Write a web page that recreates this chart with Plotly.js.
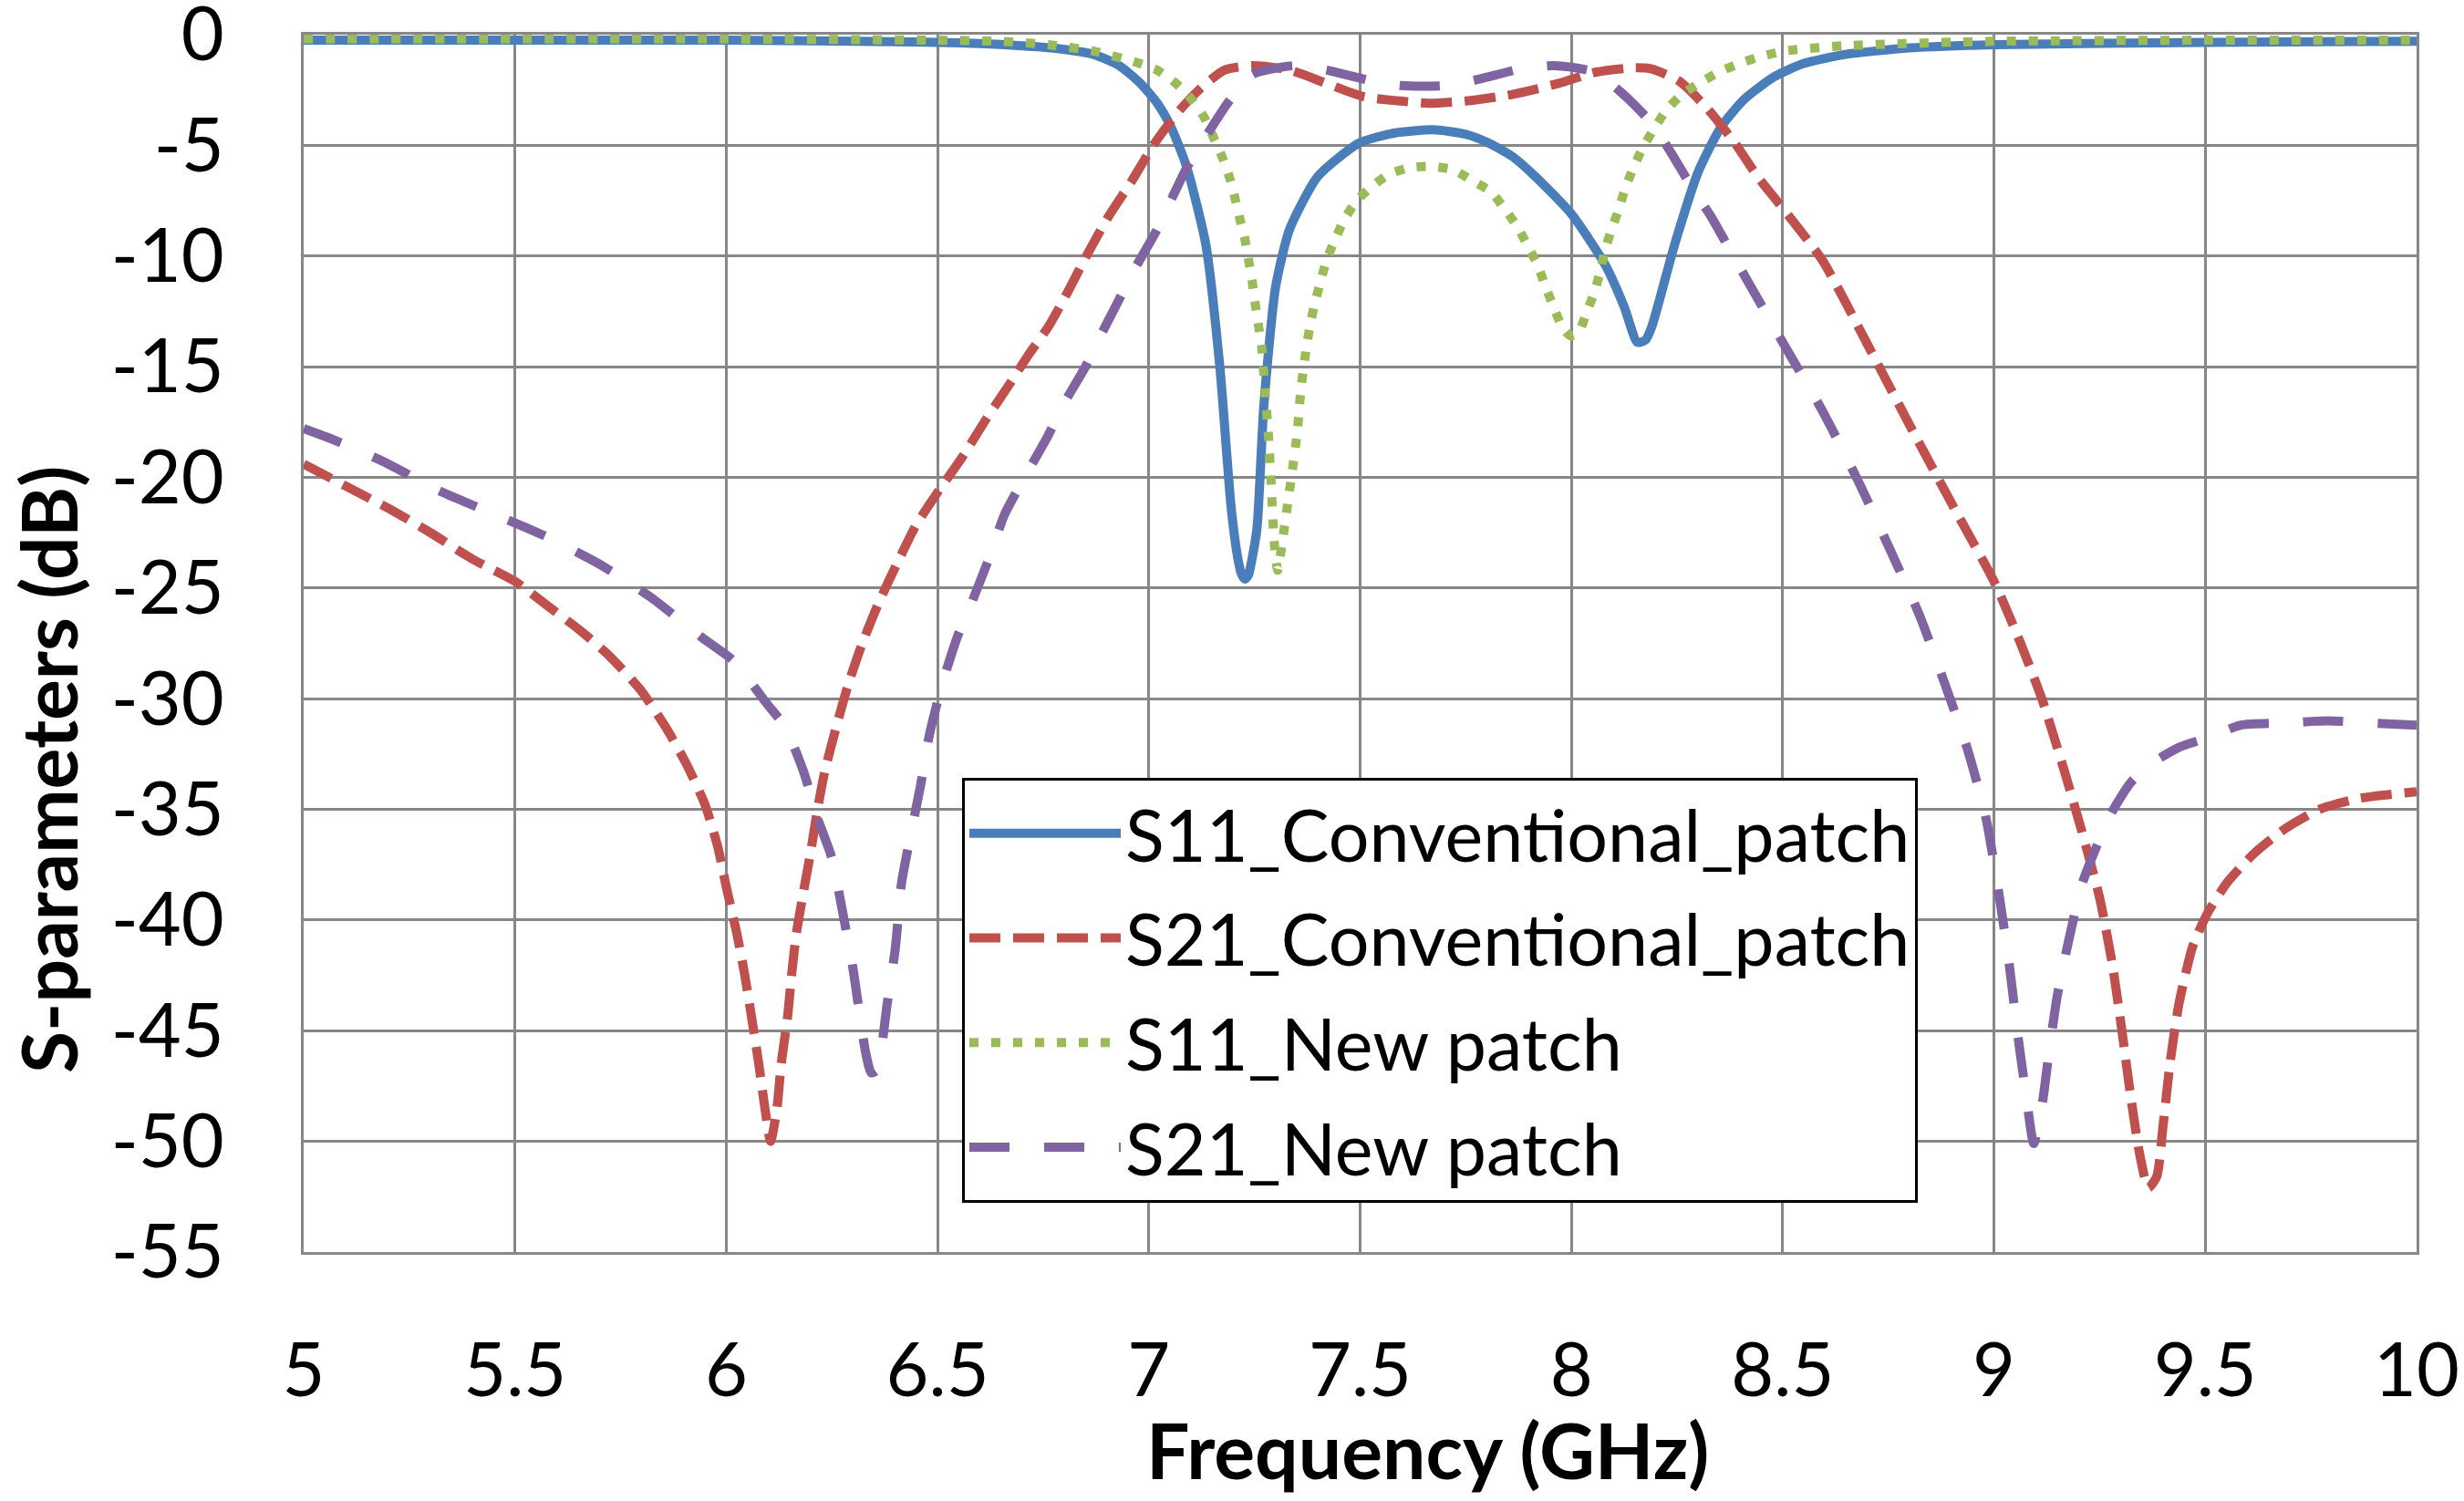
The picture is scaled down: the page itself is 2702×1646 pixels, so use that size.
<!DOCTYPE html>
<html>
<head>
<meta charset="utf-8">
<script src="https://cdn.plot.ly/plotly-3.0.1.min.js"></script>
<style>
  html, body { margin: 0; padding: 0; background: #fff; }
  #drawGraph { width: 2702px; height: 1646px; }
</style>
</head>
<body>
<div id="drawGraph"></div>
<script>
// values (GHz, dB)
let freqS11Conv = [5.0, 5.5, 6.0, 6.3, 6.5, 6.6, 6.7, 6.77, 6.87, 6.93, 6.98, 7.02, 7.053, 7.09, 7.135, 7.168, 7.195, 7.212, 7.22, 7.228, 7.236, 7.243, 7.256, 7.272, 7.30, 7.333, 7.40, 7.497, 7.58, 7.673, 7.75, 7.805, 7.86, 7.914, 8.0, 8.08, 8.125, 8.156, 8.175, 8.19, 8.244, 8.30, 8.353, 8.41, 8.48, 8.55, 8.646, 8.8, 9.0, 9.5, 10.0];
let s11Conv = [-0.25, -0.25, -0.25, -0.3, -0.35, -0.4, -0.5, -0.6, -0.9, -1.4, -2.2, -3.1, -4.2, -6, -9.5, -15, -21.4, -23.8, -24.4, -24.6, -24.4, -23.8, -22.3, -16.8, -11.4, -8.8, -6.4, -4.9, -4.45, -4.3, -4.5, -4.9, -5.5, -6.4, -8.1, -10.4, -12.3, -13.9, -13.8, -13.2, -9.5, -6.2, -4.2, -2.9, -1.9, -1.3, -0.9, -0.6, -0.45, -0.35, -0.3];

let freqS21Conv = [5.0, 5.1, 5.21, 5.3, 5.4, 5.5, 5.57, 5.653, 5.725, 5.797, 5.857, 5.907, 5.95, 5.98, 6.0, 6.025, 6.043, 6.06, 6.077, 6.09, 6.105, 6.12, 6.13, 6.145, 6.155, 6.166, 6.183, 6.2, 6.216, 6.233, 6.26, 6.288, 6.32, 6.36, 6.404, 6.448, 6.503, 6.558, 6.614, 6.67, 6.714, 6.762, 6.806, 6.855, 6.905, 6.96, 7.014, 7.069, 7.124, 7.179, 7.245, 7.333, 7.42, 7.508, 7.596, 7.662, 7.75, 7.86, 7.97, 8.057, 8.145, 8.19, 8.255, 8.32, 8.387, 8.44, 8.49, 8.594, 8.698, 8.802, 8.906, 9.0, 9.063, 9.115, 9.167, 9.208, 9.25, 9.28, 9.302, 9.323, 9.344, 9.365, 9.385, 9.4, 9.417, 9.4375, 9.47, 9.505, 9.552, 9.615, 9.687, 9.77, 9.865, 10.0];
let s21Conv = [-19.4, -20.4, -21.5, -22.5, -23.7, -24.7, -25.7, -26.9, -28.1, -29.6, -31.3, -33, -34.8, -36.7, -38.5, -40.6, -42.4, -44.4, -46.5, -48.3, -50, -48.5, -46.5, -44.4, -42.4, -40.6, -38.7, -36.9, -35, -33.3, -31.3, -29.4, -27.6, -25.7, -23.9, -22.2, -20.6, -19.1, -17.4, -15.8, -14.5, -13.2, -11.7, -9.9, -8.2, -6.6, -4.9, -3.5, -2.4, -1.6, -1.4, -1.6, -2.2, -2.8, -3.0, -3.1, -3.0, -2.7, -2.2, -1.7, -1.5, -1.55, -2.1, -3.3, -4.9, -6.4, -7.6, -10.2, -13.9, -17.7, -21.4, -24.7, -27.5, -30.1, -33.3, -36, -39, -42, -44.9, -47.9, -50.5, -52.1, -51.6, -49.3, -46.4, -43.8, -41.2, -39.7, -38.3, -37, -35.9, -35, -34.5, -34.2];

let freqS11New = [5.0, 6.0, 6.5, 6.65, 6.762, 6.87, 6.97, 7.02, 7.064, 7.10, 7.13, 7.152, 7.173, 7.19, 7.204, 7.215, 7.228, 7.237, 7.245, 7.252, 7.26, 7.267, 7.275, 7.283, 7.289, 7.297, 7.305, 7.316, 7.327, 7.338, 7.351, 7.36, 7.373, 7.382, 7.393, 7.406, 7.42, 7.44, 7.461, 7.492, 7.525, 7.569, 7.618, 7.668, 7.719, 7.766, 7.81, 7.843, 7.873, 7.898, 7.92, 7.939, 7.958, 7.978, 7.997, 8.016, 8.035, 8.055, 8.068, 8.08, 8.095, 8.112, 8.128, 8.147, 8.169, 8.194, 8.225, 8.262, 8.302, 8.348, 8.397, 8.447, 8.5, 8.646, 9.0, 9.5, 10.0];
let s11New = [-0.2, -0.2, -0.25, -0.3, -0.45, -0.75, -1.25, -1.6, -2.2, -2.9, -3.7, -4.6, -5.5, -6.4, -7.4, -8.3, -9.3, -10.3, -11.2, -12.2, -13.2, -14.1, -16.1, -18.1, -20.1, -23, -24.2, -22.9, -21.4, -19.9, -18, -16, -14.1, -13.1, -12.1, -11.2, -10.2, -9.3, -8.4, -7.5, -6.9, -6.3, -6.0, -5.95, -6.1, -6.6, -7.1, -7.9, -8.7, -9.6, -10.4, -11.4, -12.3, -13.2, -13.6, -13.5, -12.6, -11.6, -10.7, -9.7, -8.8, -7.9, -6.9, -6.0, -5.1, -4.3, -3.4, -2.7, -2.2, -1.7, -1.3, -1.0, -0.75, -0.5, -0.3, -0.25, -0.25];

let freqS21New = [5.0, 5.07, 5.19, 5.32, 5.43, 5.565, 5.698, 5.82, 5.94, 6.018, 6.095, 6.14, 6.183, 6.216, 6.25, 6.277, 6.3, 6.316, 6.33, 6.343, 6.355, 6.365, 6.38, 6.4, 6.415, 6.437, 6.46, 6.48, 6.51, 6.547, 6.58, 6.625, 6.658, 6.70, 6.762, 6.795, 6.85, 6.883, 6.926, 6.96, 7.014, 7.047, 7.09, 7.135, 7.19, 7.245, 7.344, 7.42, 7.53, 7.596, 7.706, 7.783, 7.88, 7.958, 8.057, 8.123, 8.19, 8.238, 8.288, 8.33, 8.38, 8.425, 8.5, 8.594, 8.677, 8.75, 8.823, 8.885, 8.9375, 8.98, 9.01, 9.036, 9.057, 9.078, 9.094, 9.115, 9.13, 9.15, 9.177, 9.208, 9.24, 9.28, 9.323, 9.375, 9.4375, 9.5, 9.583, 9.687, 9.79, 9.896, 10.0];
let s21New = [-17.8, -18.3, -19.3, -20.6, -21.5, -22.6, -23.9, -25.4, -27.2, -28.3, -30.2, -31.3, -33.3, -35.4, -37.2, -39.8, -42.2, -44.3, -46, -46.9, -46.8, -46.1, -43.9, -41.3, -38.3, -36.1, -33.9, -31.7, -29.4, -27.2, -25.7, -23.5, -21.7, -20.2, -18.1, -16.8, -15.0, -13.7, -12.1, -10.8, -9.0, -7.7, -6.0, -4.6, -3.0, -1.8, -1.4, -1.6, -2.1, -2.3, -2.3, -2.0, -1.55, -1.4, -1.7, -2.7, -4.0, -5.4, -7.0, -8.2, -9.9, -11.4, -13.9, -17, -20.1, -23.1, -26.2, -29.4, -32.3, -35.3, -38.6, -42, -45.3, -48.2, -50.1, -48.2, -46, -43.4, -40.9, -38.4, -36.8, -35.1, -33.8, -32.9, -32.2, -31.8, -31.2, -31.1, -31, -31.1, -31.2];

let seriesNames = ['S11_Conventional_patch', 'S21_Conventional_patch', 'S11_New patch', 'S21_New patch'];

let xTickVals = [5, 5.5, 6, 6.5, 7, 7.5, 8, 8.5, 9, 9.5, 10];
let xTickText = ['5', '5.5', '6', '6.5', '7', '7.5', '8', '8.5', '9', '9.5', '10'];
let yTickVals = [0, -5, -10, -15, -20, -25, -30, -35, -40, -45, -50, -55];
let yTickText = ['0', '-5', '-10', '-15', '-20', '-25', '-30', '-35', '-40', '-45', '-50', '-55'];

let font = 'Lato, "Open Sans", sans-serif';
let gridColor = '#878787';

traceS11Conv = {x: freqS11Conv, y: s11Conv, type: 'scatter', mode: 'lines', name: seriesNames[0], legendgroup: 'a',
    line: {color: '#4a7ebb', width: 10, shape: 'spline', smoothing: 0.6}};
traceS21Conv = {x: freqS21Conv, y: s21Conv, type: 'scatter', mode: 'lines', name: seriesNames[1], legendgroup: 'b',
    line: {color: '#c0504d', width: 10, dash: '34px,14px', shape: 'spline', smoothing: 0.6}};
traceS11New = {x: freqS11New, y: s11New, type: 'scatter', mode: 'lines', name: seriesNames[2], legendgroup: 'c',
    line: {color: '#9bbb59', width: 10, dash: '10px,14px', shape: 'spline', smoothing: 0.6}};
traceS21New = {x: freqS21New, y: s21New, type: 'scatter', mode: 'lines', name: seriesNames[3], legendgroup: 'd',
    line: {color: '#8064a2', width: 10, dash: '44px,38px', shape: 'spline', smoothing: 0.6}};

let layout = {
    width: 2702,
    height: 1646,
    margin: {l: 333, r: 52, t: 38, b: 273},
    paper_bgcolor: '#fff',
    plot_bgcolor: '#fff',
    font: {family: font, color: '#000', size: 79},
    showlegend: true,
    legend: {
        x: 0.3116, y: 0.3895, xanchor: 'left', yanchor: 'top',
        bgcolor: '#fff', bordercolor: '#000', borderwidth: 3,
        font: {family: font, size: 79, color: '#000'},
        tracegroupgap: 9, itemwidth: 166
    },
    xaxis: {
        range: [5, 10], tickvals: xTickVals, ticktext: xTickText,
        showgrid: true, gridcolor: gridColor, gridwidth: 3,
        showline: true, linecolor: gridColor, linewidth: 3, mirror: true,
        zeroline: false, ticks: '', ticklabelstandoff: 58, ticklabeloverflow: 'allow',
        tickfont: {family: font, size: 81, color: '#000'}
    },
    yaxis: {
        range: [-55, 0], tickvals: yTickVals, ticktext: yTickText,
        showgrid: true, gridcolor: gridColor, gridwidth: 3,
        showline: true, linecolor: gridColor, linewidth: 3, mirror: true,
        zeroline: false, ticks: '', ticklabelstandoff: 68, ticklabeloverflow: 'allow',
        tickfont: {family: font, size: 81, color: '#000'}
    },
    annotations: [
        {text: '<b>Frequency (GHz)</b>', xref: 'paper', yref: 'paper', x: 0.532, y: -0.162,
         xanchor: 'center', yanchor: 'middle', showarrow: false, font: {family: font, size: 84, color: '#000'}},
        {text: '<b>S-parameters (dB)</b>', xref: 'paper', yref: 'paper', x: -0.121, y: 0.396,
         xanchor: 'center', yanchor: 'middle', textangle: -90, showarrow: false, font: {family: font, size: 84, color: '#000'}}
    ]
};

drawGraph = document.getElementById('drawGraph');
graph = [traceS11Conv, traceS21Conv, traceS11New, traceS21New];

Plotly.newPlot(drawGraph, graph, layout, {staticPlot: true});
</script>
</body>
</html>
